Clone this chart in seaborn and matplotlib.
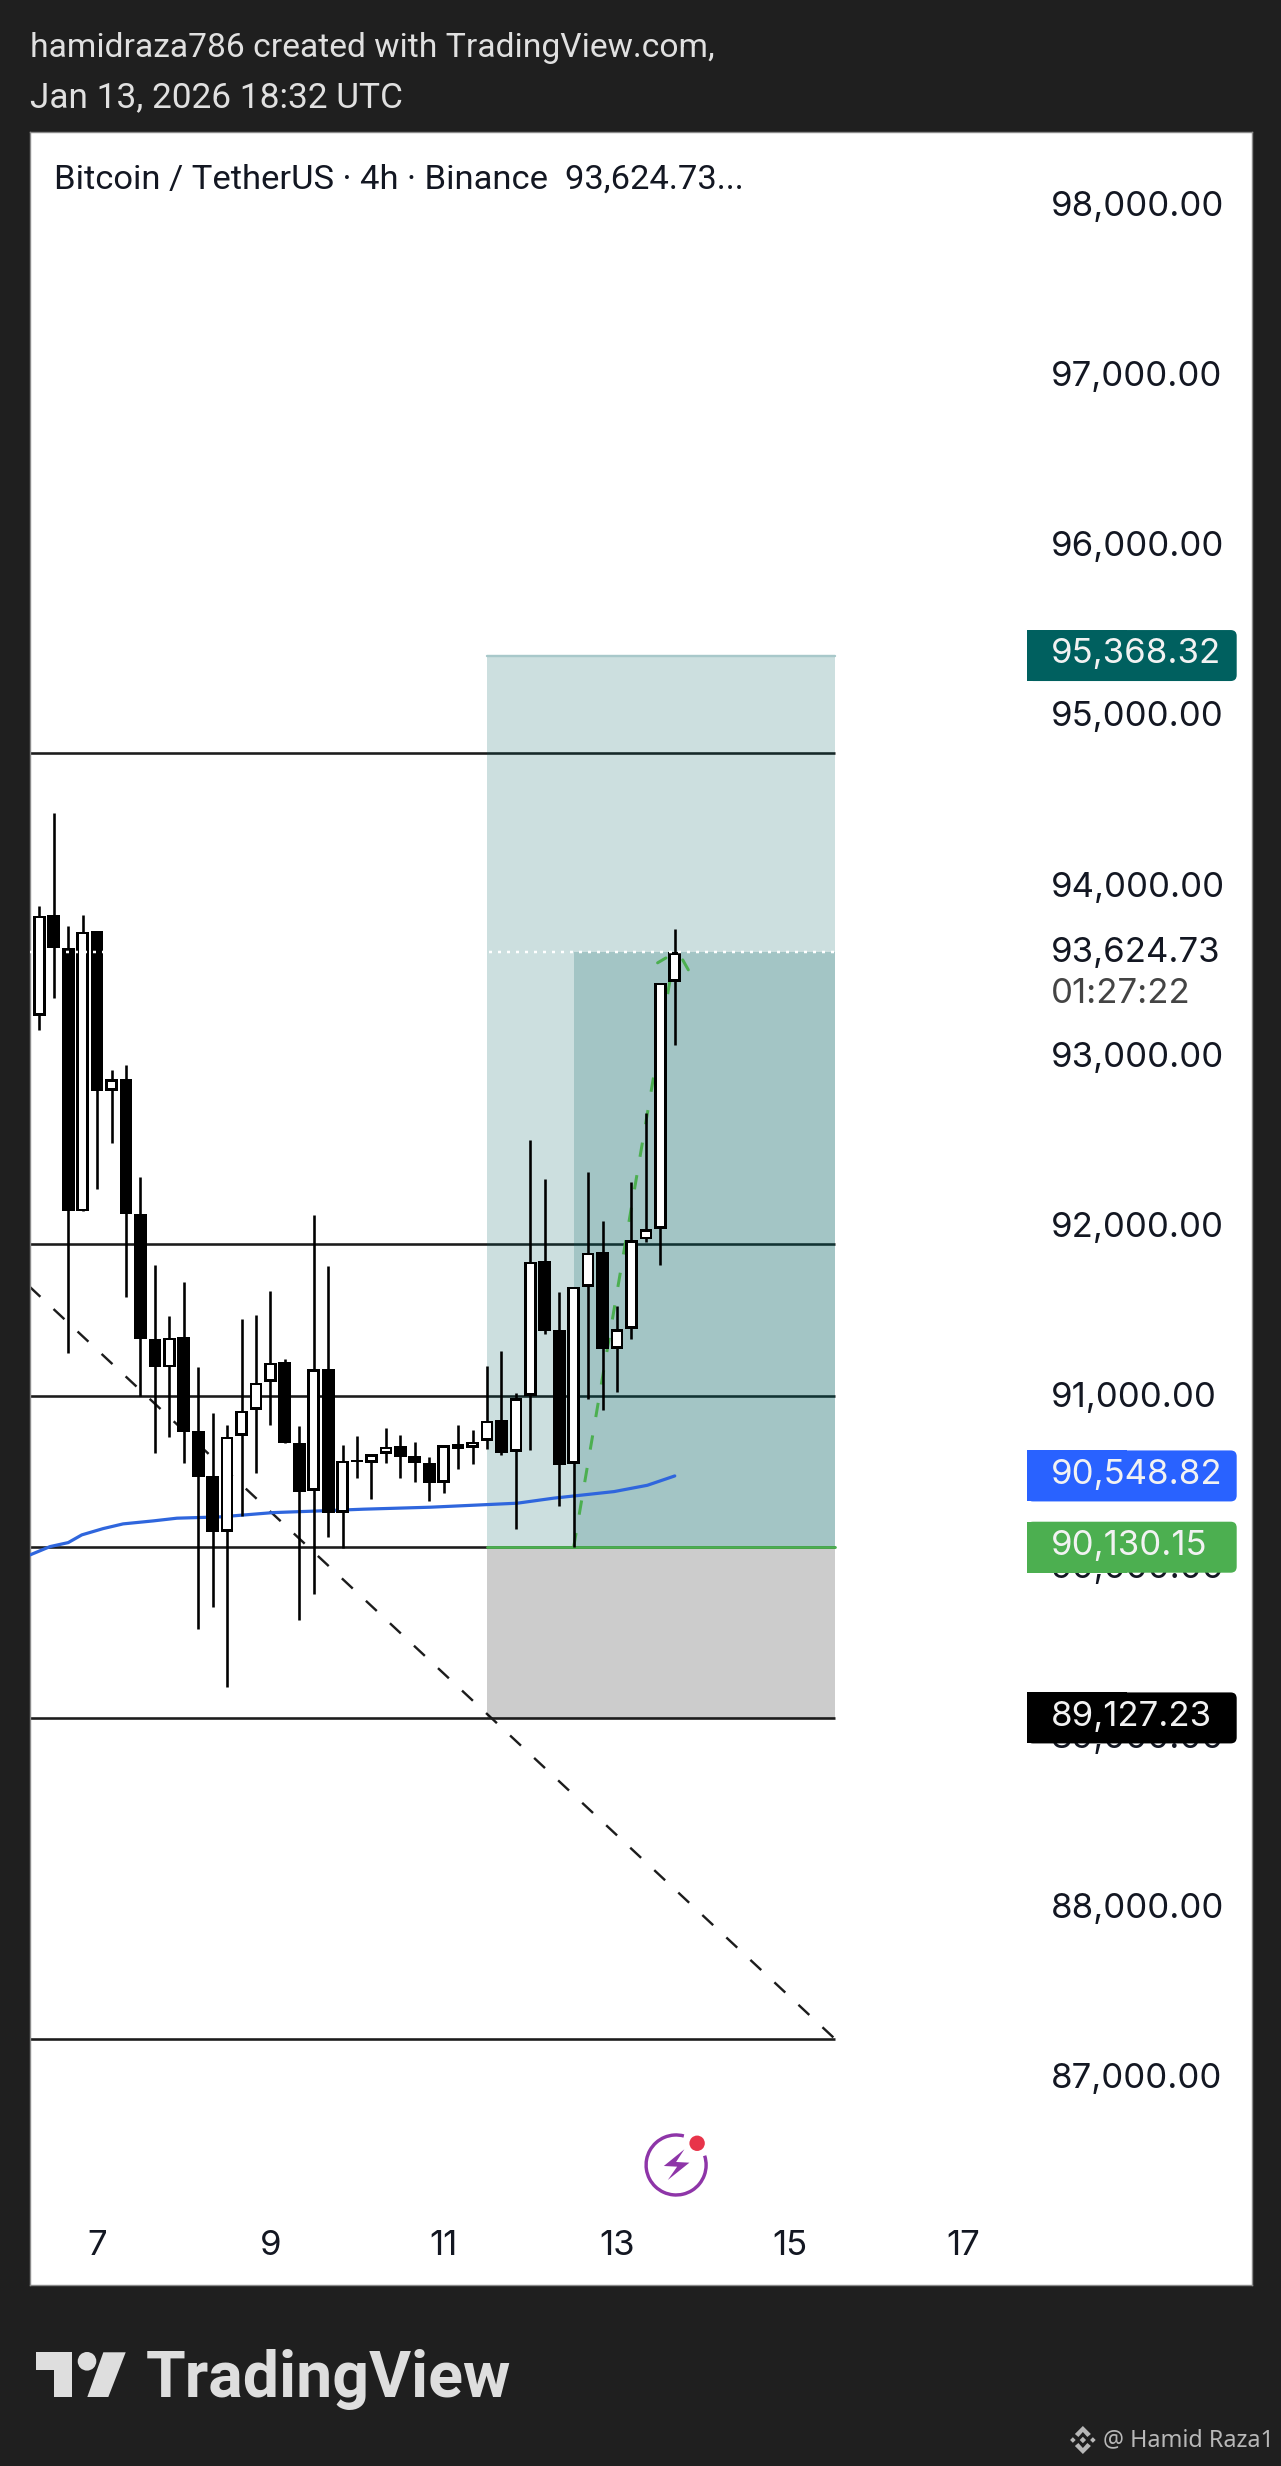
# BTC/USDT 4h chart snapshot redrawn from a TradingView screenshot
import numpy as np
import pandas as pd
import matplotlib
matplotlib.use('Agg')
import matplotlib.pyplot as plt
import seaborn as sns
from matplotlib.patches import Arc, Circle, FancyBboxPatch, Polygon, Rectangle
from matplotlib.transforms import IdentityTransform, ScaledTranslation

# candles, white = up, black = down
opens = [93253.4, 93845.0, 93651.7, 92103.6, 93751.0, 92812.7, 92881.5, 92088.3, 91352.2, 91187.6,
         91364.0, 90811.7, 90549.1, 90221.9, 90784.1, 90935.1, 91099.6, 91218.0, 90741.2, 90461.0,
         91176.0, 90333.5, 90643.1, 90623.7, 90678.3, 90725.3, 90666.6, 90623.7, 90506.2, 90737.1,
         90715.4, 90754.5, 90878.1, 90691.9, 91019.1, 91810.5, 91406.8, 90619.6, 91661.2, 91863.0,
         91297.0, 91414.5, 91938.6, 92002.0, 93453.1]
highs = [93897.9, 94444.8, 93782.1, 93845.0, 93751.0, 92934.3, 92963.7, 92302.8, 91788.7, 91489.1,
         91688.8, 91189.5, 90919.2, 90848.7, 91469.7, 91493.2, 91636.0, 91236.5, 90842.8, 92082.5,
         91782.8, 90731.2, 90784.1, 90676.6, 90829.3, 90790.0, 90747.1, 90659.0, 90731.2, 90847.0,
         90819.3, 91195.3, 91283.5, 91038.5, 92523.1, 92294.0, 91630.1, 91661.2, 92333.3, 92047.2,
         91547.8, 92276.3, 92678.8, 93447.2, 93762.7]
lows = [93169.3, 93353.8, 91270.0, 92103.6, 92235.2, 92501.9, 91602.5, 91019.1, 90684.2, 90780.0,
        90623.7, 89648.5, 89781.2, 89311.2, 90314.1, 90568.5, 90850.5, 90741.2, 89703.1, 89854.1,
        90192.5, 90124.3, 90535.6, 90412.2, 90623.7, 90539.1, 90512.1, 90404.0, 90451.0, 90588.5,
        90617.8, 90709.5, 90674.2, 90239.5, 90701.8, 91383.3, 90372.8, 90133.7, 91003.2, 90936.8,
        91044.4, 91355.6, 91925.6, 91788.7, 93081.2]
closes = [93840.9, 93647.6, 92106.0, 93746.3, 92812.7, 92881.5, 92084.8, 91352.2, 91187.6, 91361.6,
          90809.4, 90545.0, 90221.9, 90780.0, 90932.7, 91097.2, 91214.7, 90741.2, 90456.9, 91176.0,
          90330.0, 90639.0, 90633.0, 90676.6, 90721.2, 90662.5, 90623.7, 90506.2, 90731.2, 90709.5,
          90750.6, 90874.0, 90686.0, 91005.6, 91808.1, 91401.0, 90613.7, 91661.2, 91861.0, 91293.4,
          91411.0, 91935.6, 91996.7, 93447.2, 93624.73]

# moving average, read at a few spots along the curve
ma_x = [-0.64, 0.74, 2.0, 2.94, 4.42, 5.8, 7.89, 9.53, 12.53, 16.2, 19.47, 22.45, 27.1, 33.1, 35.6, 39.8, 42.1, 44.0]
ma_y = [90085.0, 90133.7, 90157.2, 90202.5, 90239.5, 90267.1, 90284.7, 90300.6, 90308.2, 90333.5,
        90343.5, 90353.5, 90365.2, 90388.7, 90418.1, 90456.9, 90493.9, 90548.82]

# drawn levels
levels = [94797.0, 91912.0, 91017.0, 90130.15, 89127.23, 87241.0]
level_end = 55.1
trend_x = [-0.68, 55.1]
trend_y = [91661.0, 87241.0]

# long position tool
entry_x = 31
fill_x = 37
tool_end = 55.1
target = 95368.32
entry = 90130.15
stop = 89127.23
last_price = 93624.73

# projection arrow
arrow_x = [37, 44]
arrow_y = [90130.15, 93624.73]
barb_left_x = [42.81, 43.39]
barb_left_y = [93563.0, 93592.0]
barb_right_x = [44.55, 44.94]
barb_right_y = [93580.6, 93521.8]

price_ticks = [87000, 88000, 89000, 90000, 91000, 92000, 93000, 94000, 95000, 96000, 97000, 98000]
day_ticks = [4, 16, 28, 40, 52, 64]
day_labels = ['7', '9', '11', '13', '15', '17']

badges = [(95368.32, '#00605f'), (90548.82, '#2962ff'), (90130.15, '#4caf50'), (89127.23, '#000000')]

BG = '#1f1f1f'
PX = 0.72  # points per pixel at dpi 100

sns.set_theme(style='white')
plt.rcParams['font.family'] = ['Inter', 'DejaVu Sans']
head_font = ['Roboto', 'DejaVu Sans']

fig = plt.figure(figsize=(12.812, 24.662), dpi=100, facecolor=BG)
ax = fig.add_axes([29.5 / 1281, (2466 - 2285) / 2466, 1222 / 1281, 2153 / 2466], facecolor='white')
ax.set_xlim(-0.68, 83.95)
ax.set_ylim(85796, 98445)

# levels and trend line go under the tool fills
ax.hlines(levels, -0.68, level_end, color='#1c1c1c', lw=2.6 * PX, zorder=1)
ax.plot(trend_x, trend_y, color='#1c1c1c', lw=2.4 * PX, linestyle=(0, (6.2, 7.5)), zorder=1)

# position tool
ax.fill_between([entry_x, tool_end], entry, target, color='#006060', alpha=0.2, lw=0, zorder=2)
ax.fill_between([fill_x, tool_end], entry, last_price, color='#006060', alpha=0.2, lw=0, zorder=2)
ax.fill_between([entry_x, tool_end], stop, entry, color='black', alpha=0.2, lw=0, zorder=2)
ax.plot([entry_x, tool_end], [entry, entry], color='#4caf50', lw=2.8 * PX, zorder=3)
ax.plot([entry_x, tool_end], [target, target], color='#a8c8ca', lw=2.4 * PX, zorder=3)

# green projection arrow
ax.plot(arrow_x, arrow_y, color='#4caf50', lw=3 * PX, linestyle=(0, (4.8, 6.2)), zorder=3)
ax.plot(barb_left_x, barb_left_y, color='#4caf50', lw=3 * PX, zorder=3)
ax.plot(barb_right_x, barb_right_y, color='#4caf50', lw=3 * PX, zorder=3)

ma = pd.DataFrame({'x': ma_x, 'y': ma_y})
sns.lineplot(data=ma, x='x', y='y', ax=ax, color='#2f66dd', lw=3.2 * PX, estimator=None, sort=False, zorder=3.5)

# candles: black body first, white inside for up bars
idx = np.arange(len(opens))
opens_a, closes_a = np.array(opens), np.array(closes)
top = np.maximum(opens_a, closes_a)
bot = np.minimum(opens_a, closes_a)
ax.vlines(idx, lows, highs, color='black', lw=2.6 * PX, zorder=4)
ax.bar(idx, top - bot, bottom=bot, width=0.88, color='black', lw=0, zorder=4.1)
up = closes_a > opens_a
inset = 2.7 * 5.875  # price units for the 2.7 px outline
ax.bar(idx[up], top[up] - bot[up] - 2 * inset, bottom=bot[up] + inset, width=0.51, color='white', lw=0, zorder=4.2)

# last price dots
ax.plot([-0.68, 83.95], [last_price, last_price], color='white', lw=2.5 * PX, linestyle=(0, (1.2, 2.4)), zorder=4.5)

# price scale sits inside the panel
ax.yaxis.tick_right()
ax.set_yticks(price_ticks)
ax.set_yticklabels(['{:,.2f}'.format(p) for p in price_ticks])
ax.tick_params(axis='y', length=0, pad=-200.5 * PX, labelsize=25, labelcolor='#131722')
nudge = ScaledTranslation(0, 4.5 / 100, fig.dpi_scale_trans)
for lab in ax.get_yticklabels():
    lab.set_transform(lab.get_transform() + nudge)
ax.set_xticks(day_ticks)
ax.set_xticklabels(day_labels)
ax.tick_params(axis='x', length=0, pad=-55 * PX, labelsize=25, labelcolor='#131722')
ax.set_xlabel('')
ax.set_ylabel('')
for s in ax.spines.values():
    s.set_color('#8a8a8a')
    s.set_linewidth(1.4 * PX)

# price badges, rounded on the right side only
for price, col in badges:
    yc = ax.transData.transform((0, price))[1]
    ax.add_patch(FancyBboxPatch((1027, yc - 25.5), 209.7, 51, boxstyle='round,pad=0,rounding_size=6',
                                transform=IdentityTransform(), fc=col, ec='none', zorder=6, clip_on=False))
    ax.add_patch(Rectangle((1027, yc - 25.5), 100, 51, transform=IdentityTransform(), fc=col, ec='none',
                           zorder=6, clip_on=False))
    ax.annotate('{:,.2f}'.format(price), (0, price), xycoords=('axes fraction', 'data'),
                xytext=(1021.5 * PX, 1.0), textcoords='offset points', color='#f2f2f2', fontsize=25,
                va='center', ha='left', zorder=7)

ax.annotate('93,624.73', (0, last_price), xycoords=('axes fraction', 'data'), xytext=(1021.5 * PX, -0.2),
            textcoords='offset points', color='#131722', fontsize=25, va='center', ha='left', zorder=7)
ax.annotate('01:27:22', (0, last_price), xycoords=('axes fraction', 'data'), xytext=(1021.5 * PX, -30),
            textcoords='offset points', color='#444444', fontsize=25, va='center', ha='left', zorder=7)

# everything else is placed in picture pixels
over = fig.add_axes([0, 0, 1, 1], zorder=10)
over.set_xlim(0, 1281)
over.set_ylim(2466, 0)
over.axis('off')
over.patch.set_alpha(0)

over.text(30, 47.5, 'hamidraza786 created with TradingView.com,', color='#e0e0e0', fontsize=24.2,
          family=head_font, va='center')
over.text(30, 98, 'Jan 13, 2026 18:32 UTC', color='#e0e0e0', fontsize=25.4, family=head_font, va='center')
over.text(54, 180, 'Bitcoin / TetherUS \u00b7 4h \u00b7 Binance  93,624.73...', color='#131722', fontsize=24.8,
          family=head_font, va='center')

# lightning badge
purple = '#8e35a8'
over.add_patch(Arc((676, 2165), 60, 60, theta1=342, theta2=645, color=purple, lw=3.4 * PX))
over.add_patch(Circle((697, 2143.3), 7.7, fc='#e8344a', ec='none'))
bolt = [(684.3, 2149.3), (663.7, 2166), (677, 2166.7), (667.7, 2180), (689.3, 2162.7), (676, 2162)]
over.add_patch(Polygon(bolt, closed=True, fc=purple, ec='none'))

# TradingView logo
logo = '#dedede'
over.add_patch(Polygon([(36, 2352.3), (72, 2352.3), (72, 2397), (54, 2397), (54, 2370.3), (36, 2370.3)], fc=logo, ec='none'))
over.add_patch(Circle((87, 2361.3), 9.3, fc=logo, ec='none'))
over.add_patch(Polygon([(103.3, 2352.3), (125.7, 2352.3), (108.3, 2397), (87.3, 2397)], fc=logo, ec='none'))
over.text(146, 2397, 'TradingView', color=logo, fontsize=46.4, fontweight='bold', family=head_font, va='baseline')

# watermark
mark = '#b8b8b8'
cx, cy = 1082.7, 2440
over.add_patch(Polygon([(cx, cy - 14), (cx + 8, cy - 6), (cx + 4.5, cy - 3), (cx, cy - 8), (cx - 4.5, cy - 3), (cx - 8, cy - 6)], fc=mark, ec='none'))
over.add_patch(Polygon([(cx, cy + 14), (cx + 8, cy + 6), (cx + 4.5, cy + 3), (cx, cy + 8), (cx - 4.5, cy + 3), (cx - 8, cy + 6)], fc=mark, ec='none'))
for dx, r in [(0, 3.2), (-10, 2.8), (10, 2.8)]:
    over.add_patch(Polygon([(cx + dx - r, cy), (cx + dx, cy - r), (cx + dx + r, cy), (cx + dx, cy + r)], fc=mark, ec='none'))
over.text(1103, 2440, '@ Hamid Raza1', color=mark, fontsize=16.8, family=['Noto Sans', 'DejaVu Sans'], va='center')

fig.savefig('out.png', dpi=100, facecolor=BG)
